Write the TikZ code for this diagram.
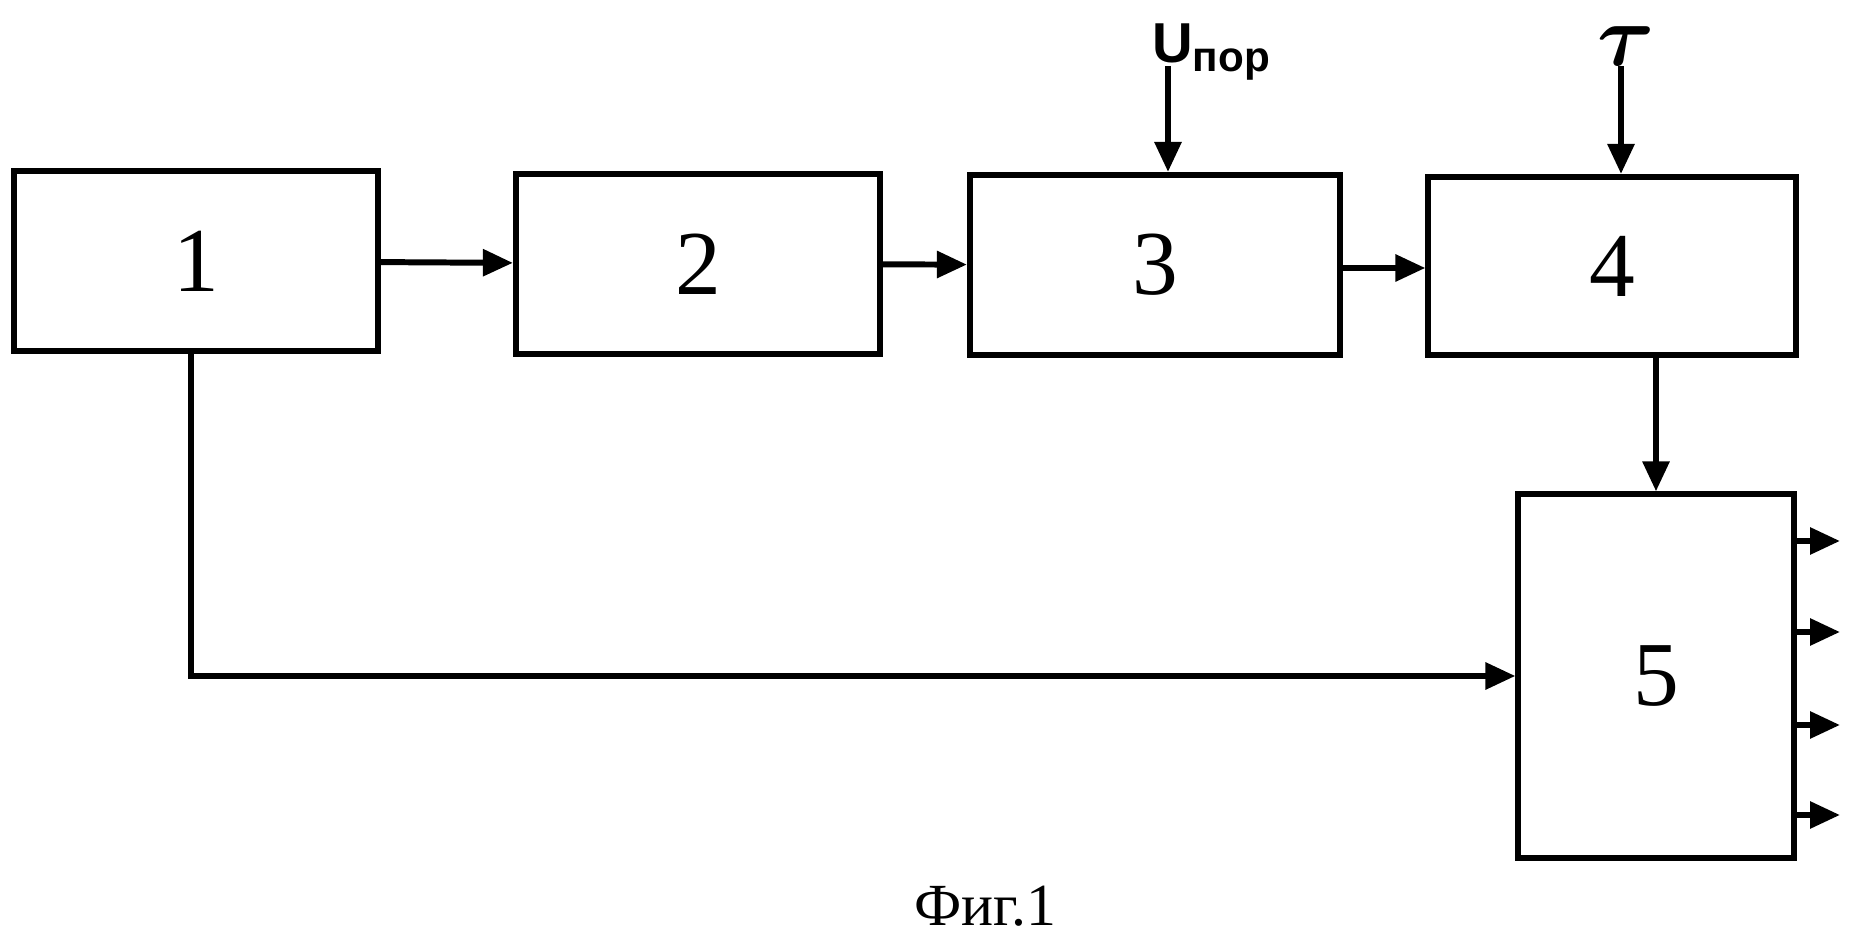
\documentclass[tikz,border=0pt]{standalone}
\usepackage{amsmath}
\usepackage{fontspec}
\setmainfont{Liberation Serif}
\newfontfamily\labelfont{Liberation Sans}
\usetikzlibrary{arrows.meta,positioning}

\begin{document}
\begin{tikzpicture}[
    x=0.01cm, y=-0.01cm,
    block/.style={
        draw,
        line width=1.7pt,
        minimum width=3.64cm,
        minimum height=1.8cm,
        font=\fontsize{26}{26}\selectfont,
        inner sep=0pt
    },
    relation/.style={-{Triangle[length=3mm, width=2.6mm]}, line width=1.7pt},
    wire/.style={line width=1.7pt}
]
\useasboundingbox (0,0) rectangle (1860,934);

\node[block] (b1) at (196, 261) {1};
\node[block] (b2) at (698, 264) {2};
\node[block, minimum width=3.7cm] (b3) at (1155, 265) {3};
\node[block, minimum width=3.67cm, minimum height=1.78cm] (b4) at (1612, 266) {4};
\node[block, minimum width=2.75cm, minimum height=3.63cm] (b5) at (1656, 676) {5};

% inputs from above
\node[font=\labelfont\bfseries\fontsize{16}{16}\selectfont, inner sep=0pt] (uthr) at (1212, 52) {U\textsubscript{\fontsize{12}{12}\selectfont пор}};
\node[font=\fontsize{30}{30}\selectfont, inner sep=0pt] (tau) at (1626, 46) {$\boldsymbol{\tau}$};
\coordinate (uin) at (1168, 66);
\coordinate (tauin) at (1621, 66);

% caption
\node[font=\fontsize{17}{17}\selectfont, inner sep=0pt] (cap) at (985, 906) {Фиг.1};

\draw[relation] (b1) -- (b2);
\draw[relation] (b2) -- (b3);
\draw[relation] (b3.east |- 0,268) -- (b4.west |- 0,268);
\draw[relation] (uin) -- (uin |- b3.north);
\draw[relation] (tauin) -- (tauin |- b4.north);
\draw[relation] (b5.north |- b4.south) -- (b5.north);
\draw[relation] (191,0 |- b1.south) -- (191,676) -- (b5.west);

% outputs of block 5
\foreach \yo in {541, 632, 725, 815}
    \draw[relation] (b5.east |- 0,\yo) -- (1840,\yo);

\end{tikzpicture}
\end{document}
